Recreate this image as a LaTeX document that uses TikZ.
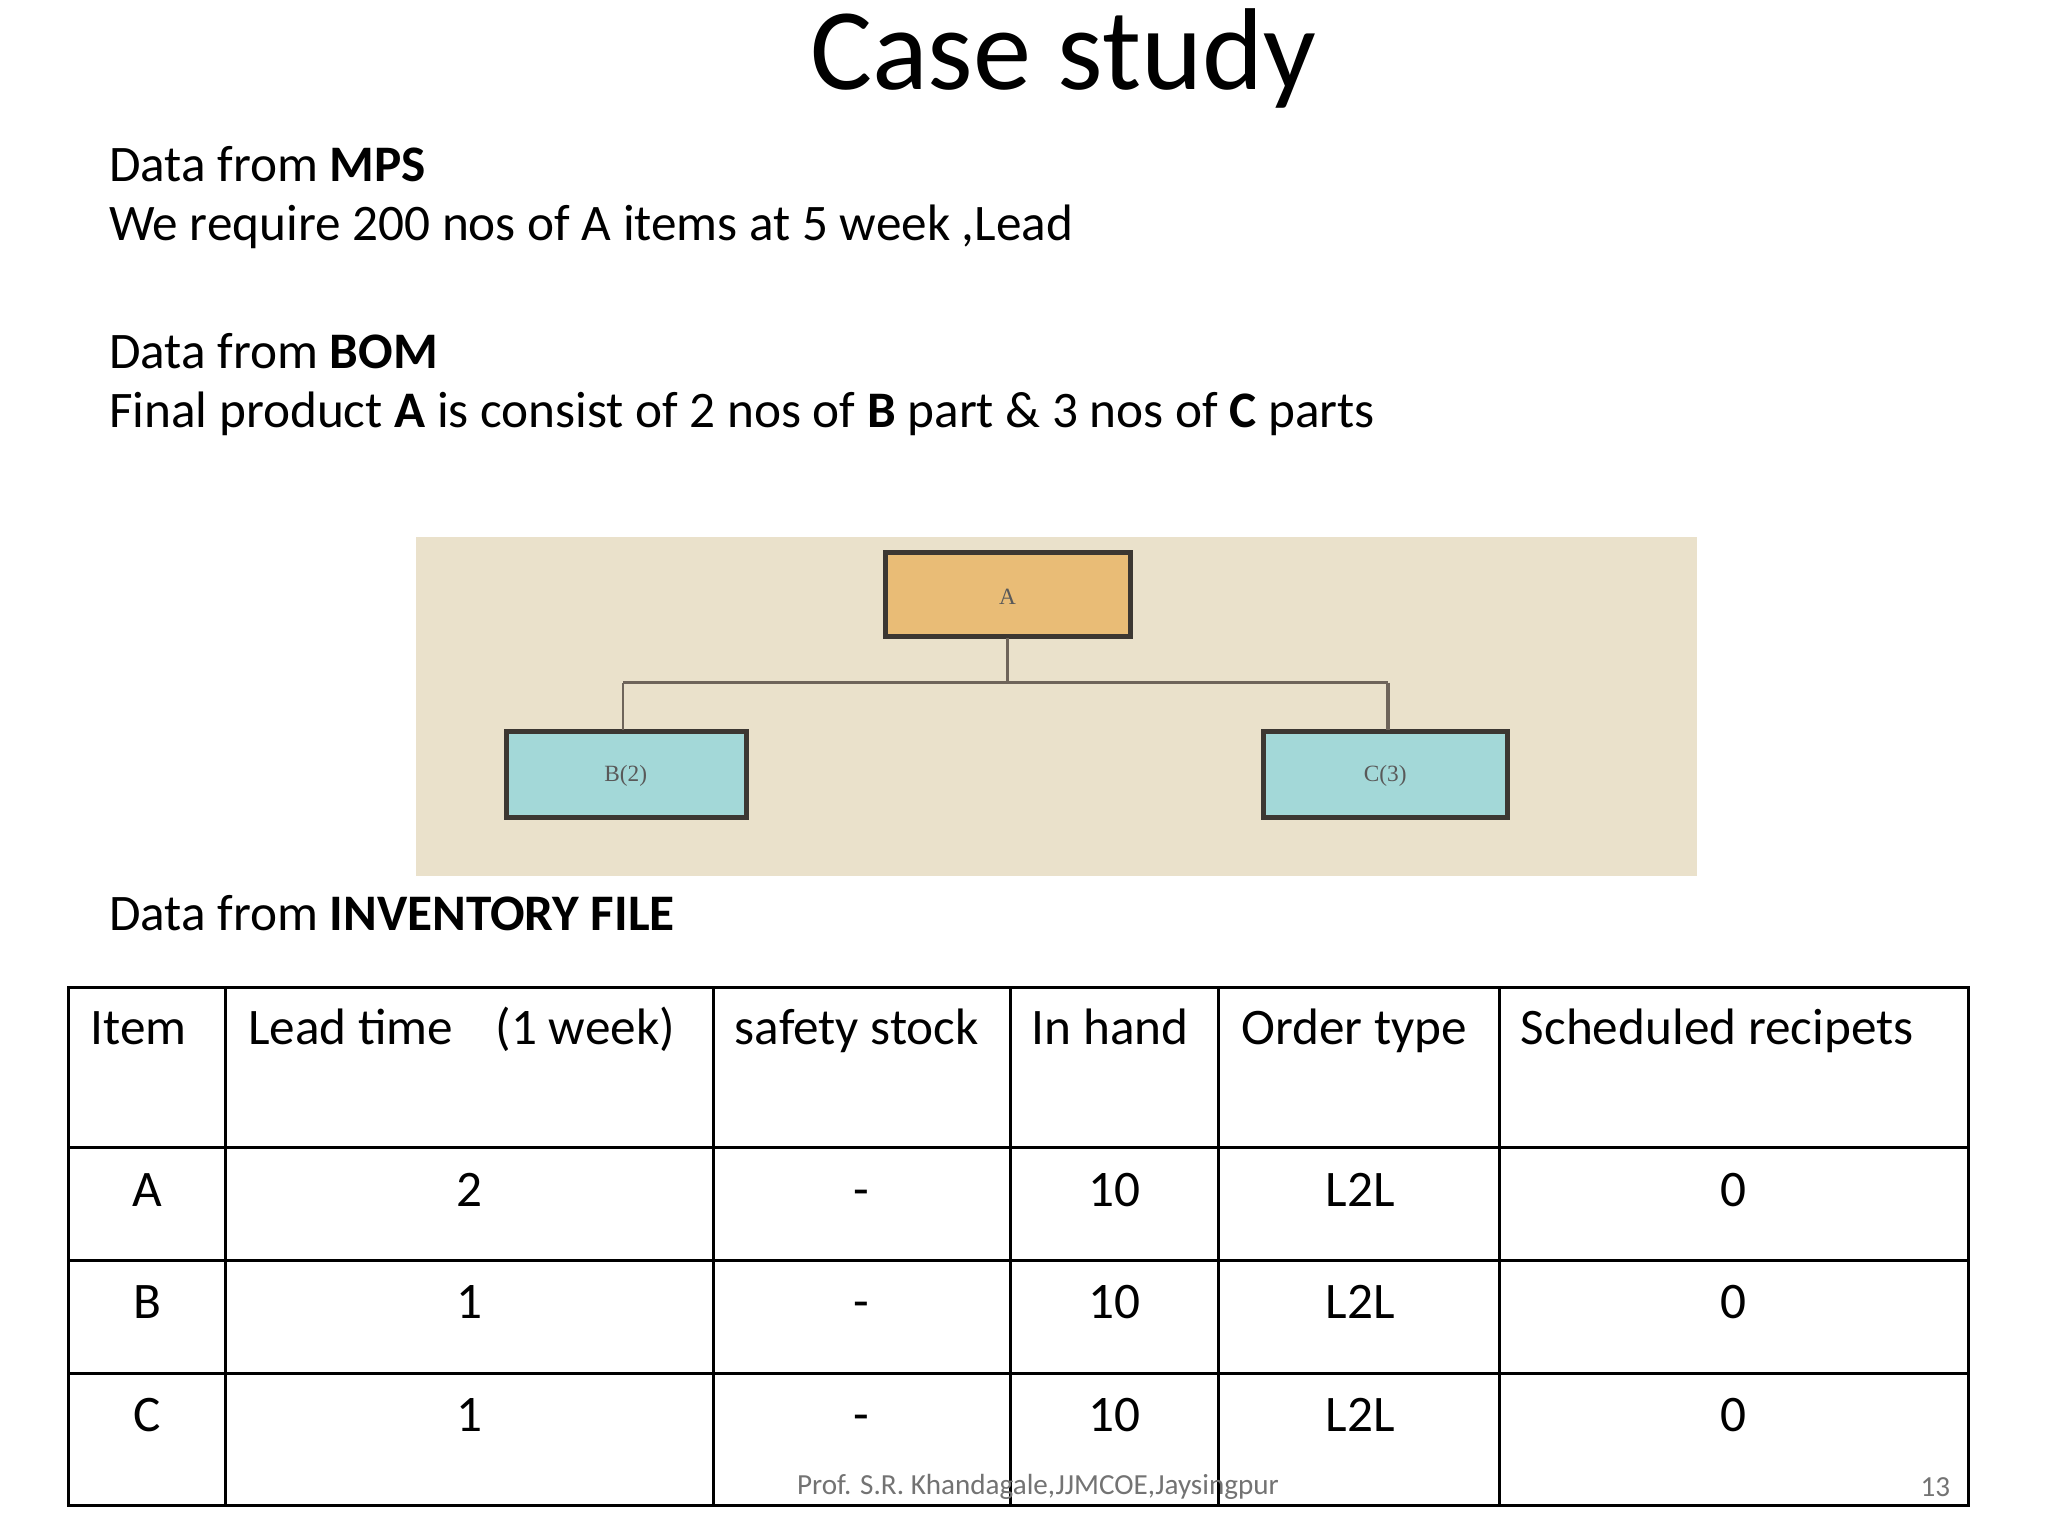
\documentclass[tikz,border=0pt]{standalone}
\usepackage{fontspec}
\setmainfont{Carlito}
\newfontfamily\serifbom{Liberation Serif}
\definecolor{bombg}{RGB}{234,225,203}
\definecolor{aorange}{RGB}{233,188,118}
\definecolor{bcyan}{RGB}{163,216,216}
\definecolor{boxedge}{RGB}{60,55,50}
\definecolor{conn}{RGB}{110,100,90}
\tikzset{
 body/.style={anchor=west,inner sep=0pt,font=\fontsize{22}{26}\selectfont},
 cell/.style={inner sep=0pt,anchor=base,font=\fontsize{22}{26}\selectfont},
 bombox/.style={draw=boxedge,line width=2.2pt,inner sep=0pt},
 bomlab/.style={font=\serifbom\fontsize{10}{11}\selectfont,text=black!65},
}
\begin{document}
\begin{tikzpicture}[x=0.02cm,y=-0.02cm]
\useasboundingbox[fill=white] (0,0) rectangle (1545,1159);
\node[inner sep=0pt,font=\fontsize{50}{58}\selectfont] (title) at (802,44) {Case study};
\node[body] (l1) at (82,124) {Data from \textbf{MPS}};
\node[body] (l2) at (82,171) {We require 200 nos of A items at 5 week ,Lead};
\node[body] (l3) at (82,265) {Data from \textbf{BOM}};
\node[body] (l4) at (82,312) {Final product \textbf{A} is consist of 2 nos of \textbf{B} part \& 3 nos of \textbf{C} parts};
% BOM picture
\fill[bombg] (314,405) rectangle (1280,661);
\path[bombox,fill=aorange] (668,417) rectangle (853,480);
\node[bomlab] (Alab) at (760,450) {A};
\path[bombox,fill=bcyan] (382,552) rectangle (563,617);
\node[bomlab] (Blab) at (472,585) {B(2)};
\path[bombox,fill=bcyan] (953,552) rectangle (1137,617);
\node[bomlab] (Clab) at (1045,585) {C(3)};
\draw[conn,line width=1.6pt] (760,481) -- (760,515);
\draw[conn,line width=1.2pt] (470,515) -- (1047,515);
\draw[conn,line width=1.2pt] (470,515) -- (470,551);
\draw[conn,line width=1.6pt] (1047,515) -- (1047,551);
\node[body] (l5) at (82,689) {Data from \textbf{INVENTORY FILE}};
% table
\draw[line width=1.3pt] (52,745) rectangle (1485,1136);
\foreach \x in {170,538,762,919,1131} \draw[line width=1.3pt] (\x,745) -- (\x,1136);
\foreach \y in {866,951,1036} \draw[line width=1.3pt] (52,\y) -- (1485,\y);
\foreach \n/\x/\t in {h1/68/Item,h2/187/{Lead time\hspace{0.6em} (1 week)},h3/554/{safety stock},h4/778/{In hand},h5/936/{Order type},h6/1147/{Scheduled recipets}}
 \node[cell,anchor=base west] (\n) at (\x,788) {\t};
\foreach \r/\y/\it/\lt in {1/910/A/2,2/995/B/1,3/1080/C/1}{
 \node[cell] (i\r) at (111,\y) {\it};
 \node[cell] (lt\r) at (354,\y) {\lt};
 \node[cell] (s\r) at (650,\y) {-};
 \node[cell] (h\r) at (841,\y) {10};
 \node[cell] (o\r) at (1026,\y) {L2L};
 \node[cell] (sr\r) at (1308,\y) {0};
}
\node[inner sep=0pt,text=black!55,font=\fontsize{12.5}{14}\selectfont] (foot) at (783,1122) {Prof. S.R. Khandagale,JJMCOE,Jaysingpur};
\node[inner sep=0pt,text=black!55,font=\fontsize{12.5}{14}\selectfont] (pg) at (1460,1122) {13};
\end{tikzpicture}
\end{document}
